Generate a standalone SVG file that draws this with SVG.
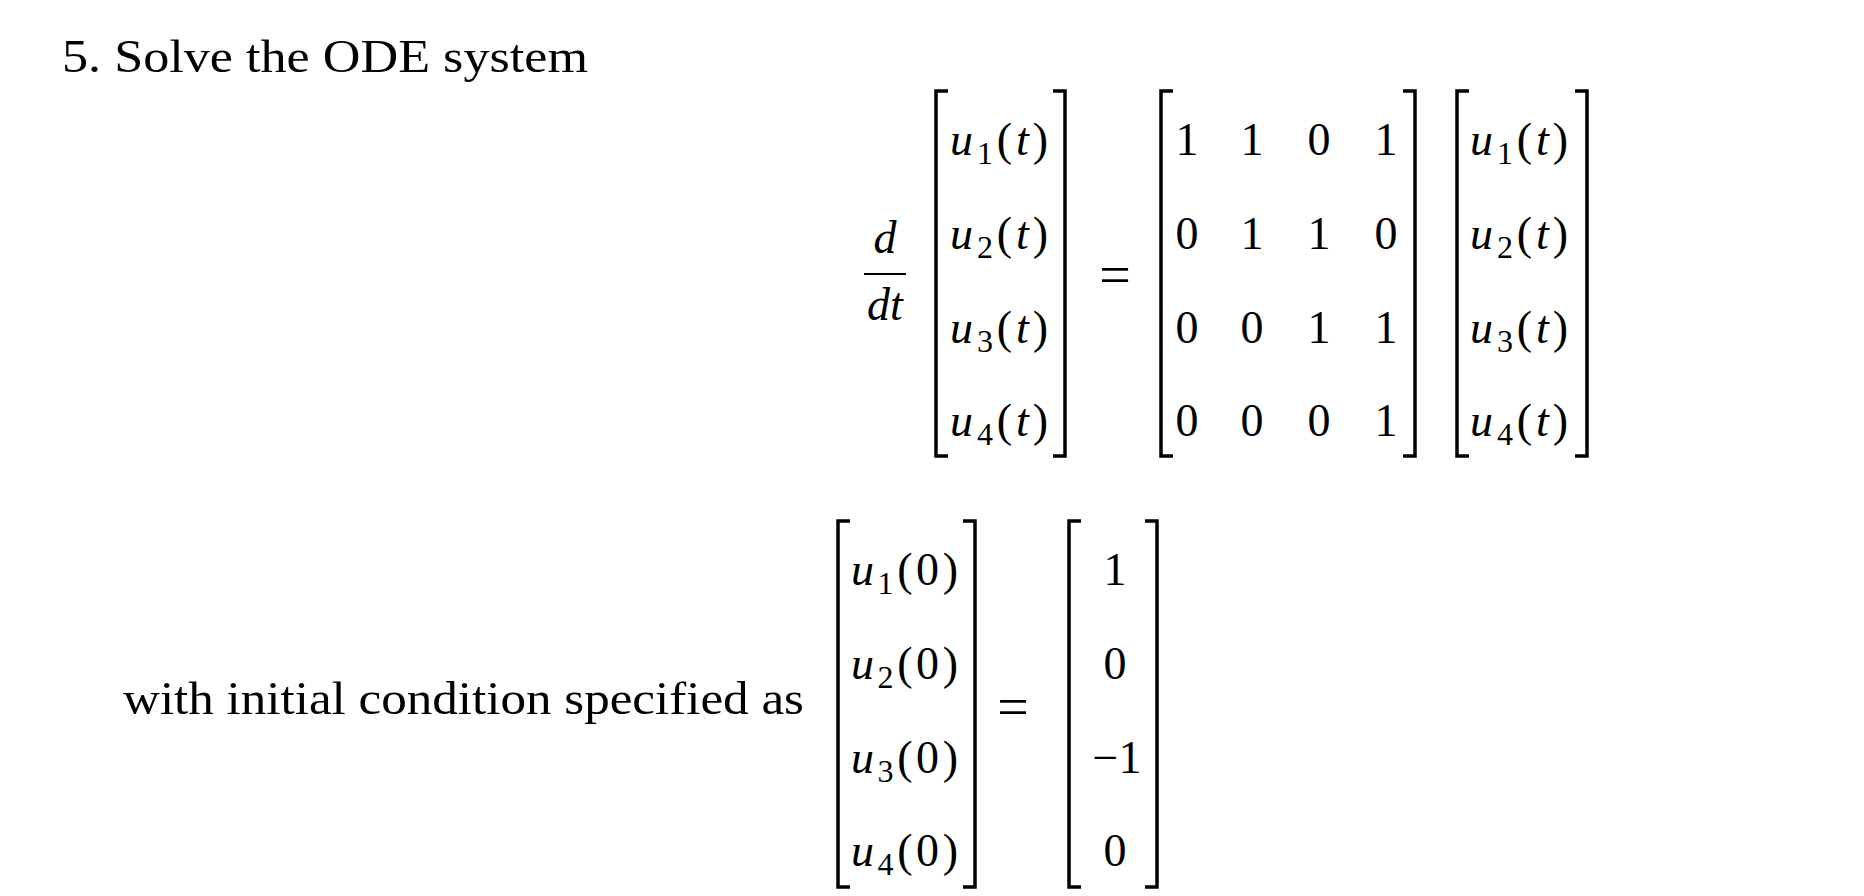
<svg xmlns="http://www.w3.org/2000/svg" width="1864" height="896" viewBox="0 0 1864 896">
<style>
text{font-family:"Liberation Serif","DejaVu Serif",serif;font-size:46px;fill:#000}
.i{font-style:italic}
.s{font-size:32px;font-style:normal}
.c{text-anchor:middle}
.e{font-size:56px;text-anchor:middle}
.b{fill:none;stroke:#000;stroke-width:3.5}
</style>
<rect width="1864" height="896" fill="#fff"/>
<text x="62" y="72" textLength="526" lengthAdjust="spacingAndGlyphs">5. Solve the ODE system</text>
<g id="ddt">
<text x="885" y="253" class="i c">d</text>
<line x1="864" y1="274" x2="906" y2="274" stroke="#000" stroke-width="2"/>
<text x="885" y="320" class="i c">dt</text>
</g>
<g id="lhs">
<path class="b" d="M948,91 H936 V456 H948 M1053,91 H1065 V456 H1053"/>
<text x="950" y="155" textLength="98"><tspan class="i">u</tspan><tspan class="s" dy="9">1</tspan><tspan dy="-9">(</tspan><tspan class="i">t</tspan>)</text>
<text x="950" y="249" textLength="98"><tspan class="i">u</tspan><tspan class="s" dy="9">2</tspan><tspan dy="-9">(</tspan><tspan class="i">t</tspan>)</text>
<text x="950" y="343" textLength="98"><tspan class="i">u</tspan><tspan class="s" dy="9">3</tspan><tspan dy="-9">(</tspan><tspan class="i">t</tspan>)</text>
<text x="950" y="436" textLength="98"><tspan class="i">u</tspan><tspan class="s" dy="9">4</tspan><tspan dy="-9">(</tspan><tspan class="i">t</tspan>)</text>
</g>
<text x="1115" y="294" class="e">=</text>
<g id="A">
<path class="b" d="M1173,91 H1161 V456 H1173 M1403,91 H1415 V456 H1403"/>
<text x="1187" y="155" class="c">1</text><text x="1252" y="155" class="c">1</text><text x="1319" y="155" class="c">0</text><text x="1386" y="155" class="c">1</text>
<text x="1187" y="249" class="c">0</text><text x="1252" y="249" class="c">1</text><text x="1319" y="249" class="c">1</text><text x="1386" y="249" class="c">0</text>
<text x="1187" y="343" class="c">0</text><text x="1252" y="343" class="c">0</text><text x="1319" y="343" class="c">1</text><text x="1386" y="343" class="c">1</text>
<text x="1187" y="436" class="c">0</text><text x="1252" y="436" class="c">0</text><text x="1319" y="436" class="c">0</text><text x="1386" y="436" class="c">1</text>
</g>
<g id="rhs">
<path class="b" d="M1469,91 H1457 V456 H1469 M1575,91 H1587 V456 H1575"/>
<text x="1470" y="155" textLength="98"><tspan class="i">u</tspan><tspan class="s" dy="9">1</tspan><tspan dy="-9">(</tspan><tspan class="i">t</tspan>)</text>
<text x="1470" y="249" textLength="98"><tspan class="i">u</tspan><tspan class="s" dy="9">2</tspan><tspan dy="-9">(</tspan><tspan class="i">t</tspan>)</text>
<text x="1470" y="343" textLength="98"><tspan class="i">u</tspan><tspan class="s" dy="9">3</tspan><tspan dy="-9">(</tspan><tspan class="i">t</tspan>)</text>
<text x="1470" y="436" textLength="98"><tspan class="i">u</tspan><tspan class="s" dy="9">4</tspan><tspan dy="-9">(</tspan><tspan class="i">t</tspan>)</text>
</g>
<text x="123" y="714" textLength="681" lengthAdjust="spacingAndGlyphs">with initial condition specified as</text>
<g id="init">
<path class="b" d="M850,521 H838 V887 H850 M963,521 H975 V887 H963"/>
<text x="851" y="585" textLength="107"><tspan class="i">u</tspan><tspan class="s" dy="9">1</tspan><tspan dy="-9">(0)</tspan></text>
<text x="851" y="679" textLength="107"><tspan class="i">u</tspan><tspan class="s" dy="9">2</tspan><tspan dy="-9">(0)</tspan></text>
<text x="851" y="773" textLength="107"><tspan class="i">u</tspan><tspan class="s" dy="9">3</tspan><tspan dy="-9">(0)</tspan></text>
<text x="851" y="866" textLength="107"><tspan class="i">u</tspan><tspan class="s" dy="9">4</tspan><tspan dy="-9">(0)</tspan></text>
</g>
<text x="1013" y="726" class="e">=</text>
<g id="vals">
<path class="b" d="M1081,521 H1069 V887 H1081 M1145,521 H1157 V887 H1145"/>
<text x="1115" y="585" class="c">1</text>
<text x="1115" y="679" class="c">0</text>
<text x="1117" y="773" class="c">−1</text>
<text x="1115" y="866" class="c">0</text>
</g>
</svg>
